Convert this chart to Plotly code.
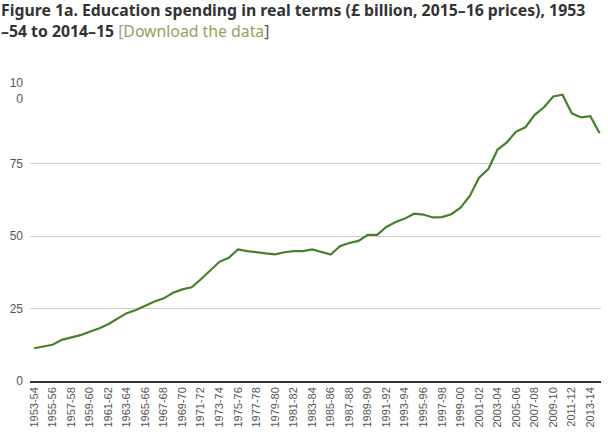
import plotly.graph_objects as go

years = [f"{y}-{str(y + 1)[-2:]}" for y in range(1953, 2015)]
spending = [11.3, 11.9, 12.5, 14.2, 15.0, 15.8, 17.0, 18.1, 19.6, 21.6,
            23.4, 24.5, 25.9, 27.4, 28.5, 30.4, 31.6, 32.3, 35.1, 38.0,
            41.1, 42.5, 45.4, 44.8, 44.3, 44.0, 43.7, 44.4, 44.8, 44.8,
            45.4, 44.4, 43.6, 46.5, 47.6, 48.3, 50.4, 50.4, 53.1, 54.8,
            56.0, 57.7, 57.4, 56.4, 56.5, 57.5, 59.8, 63.8, 70.1, 73.1,
            79.8, 82.3, 86.0, 87.5, 91.8, 94.4, 98.1, 98.7, 92.3, 90.9,
            91.3, 85.4]
tick_labels = years[::2]
y_ticks = [0, 25, 50, 75, 100]
y_tick_text = ["0", "25", "50", "75", "10<br>0"]

title_text = ("<b>Figure 1a. Education spending in real terms (£ billion, 2015–16 prices), 1953</b><br>"
              "<b>–54 to 2014–15</b> <span style='color:#a0a0a0'>[</span>"
              "<span style='color:#8fa35c'>Download the data</span>"
              "<span style='color:#555'>]</span>")

fig = go.Figure()
fig.add_trace(go.Scatter(
    x=list(range(len(years))), y=spending, mode="lines",
    line=dict(color="#46802a", width=2.2),
    hoverinfo="skip", showlegend=False,
))

fig.add_annotation(
    text=title_text, xref="paper", yref="paper", x=0, y=1,
    xanchor="left", yanchor="middle", xshift=-31, yshift=71,
    showarrow=False, align="left",
    font=dict(family="Noto Sans", size=15.8, color="#333333"),
)

fig.update_layout(
    width=608, height=439,
    margin=dict(l=30, r=7, t=91, b=58),
    paper_bgcolor="white", plot_bgcolor="white",
    xaxis=dict(
        range=[-0.43, 61.15],
        tickmode="array",
        tickvals=list(range(0, len(years), 2)),
        ticktext=tick_labels,
        tickangle=-90,
        tickfont=dict(family="Liberation Sans, Arial", size=11, color="#555555"),
        showgrid=False, zeroline=False,
        showline=True, linecolor="#333333", linewidth=1.5,
        ticks="", fixedrange=True,
    ),
    yaxis=dict(
        range=[0, 100],
        tickmode="array", tickvals=y_ticks, ticktext=y_tick_text,
        tickfont=dict(family="Liberation Sans, Arial", size=12, color="#555555"),
        showgrid=True, gridcolor="#cccccc", gridwidth=1,
        zeroline=False, showline=False, ticks="",
        ticklabelstandoff=6,
    ),
)

fig.write_html("out.html")
